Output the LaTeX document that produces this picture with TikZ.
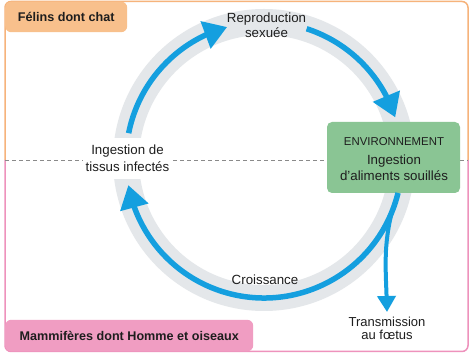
\documentclass[tikz,border=0pt]{standalone}
\usepackage{fontspec}
\setmainfont{Liberation Sans}
\usetikzlibrary{arrows.meta,bending,calc}
\definecolor{orangeF}{HTML}{F8C08C}
\definecolor{orangeL}{HTML}{F6B37B}
\definecolor{pinkF}{HTML}{F09DC2}
\definecolor{pinkL}{HTML}{EE92BC}
\definecolor{greenB}{HTML}{8AC594}
\definecolor{ringG}{HTML}{E4E7EA}
\definecolor{blueA}{HTML}{149FDF}
\definecolor{txt}{HTML}{1E1E1E}
\definecolor{dashG}{HTML}{8A8A8A}
\begin{document}
\begin{tikzpicture}[x=1pt,y=1pt,
  lbl/.style={font=\fontsize{13.3}{15}\selectfont, text=txt, align=center, inner sep=1pt},
  tag/.style={font=\fontsize{12.6}{15}\selectfont\bfseries, text=txt},
  flow/.style={draw=blueA, line width=5.5pt, -{Triangle[length=23pt,width=28pt]}},
  flowsmall/.style={draw=blueA, line width=4pt, -{Triangle[length=16pt,width=18pt]}},
]
\useasboundingbox (0,0) rectangle (474,353);
\fill[white] (0,0) rectangle (474,353);
\coordinate (C) at (264,193);
% ring
\draw[ringG, line width=26pt] (C) circle[radius=138];
% frames
\draw[orangeL, line width=1.5pt, rounded corners=6] (5,193) -- (5,351.5) -- (468,351.5) -- (468,193);
\draw[pinkL, line width=1.5pt, rounded corners=6] (5,193) -- (5,1.5) -- (468,1.5) -- (468,193);
\draw[dashG, line width=0.8pt, dash pattern=on 4pt off 3pt] (5,193) -- (468,193);
% labels of the frames
\node[tag, fill=orangeF, rounded corners=6, minimum width=122, minimum height=30.5, anchor=north west] (felins) at (5,351.5) {Félins dont chat};
\node[tag, fill=pinkF, rounded corners=6, minimum width=248, minimum height=31.5, anchor=south west] (mamm) at (5,1.5) {Mammifères dont Homme et oiseaux};
% environment box
\node[fill=greenB, rounded corners=5, minimum width=133, minimum height=71] (env) at (393.5,195.5) {};
\node[font=\fontsize{11.4}{13}\selectfont, text=txt] (envt) at (394,211) {ENVIRONNEMENT};
\node[lbl, font=\fontsize{13.3}{16}\selectfont] (envs) at (394,185) {Ingestion\\d’aliments souillés};
% text labels
\node[lbl, fill=white, inner xsep=3pt, inner ysep=7pt, font=\fontsize{13.3}{17}\selectfont] (ingt) at (127.5,194.5) {Ingestion de\\tissus infectés};
\node[lbl] (repro) at (266.5,327.5) {Reproduction\\sexuée};
\node[lbl] (crois) at (265,73) {Croissance};
\node[lbl, font=\fontsize{13}{13.5}\selectfont] (trans) at (387,24.5) {Transmission\\au fœtus};
% arrows
\coordinate (a1s) at ($(C)+(168.8:138)$);
\coordinate (a2s) at ($(C)+(72:138)$);
\coordinate (a3s) at ($(C)+(-13.8:138)$);
\coordinate (br) at ($(C)+(-22:138)$);
\coordinate (tipT) at (387,41);
\draw[flow] (a1s) arc[start angle=168.8, end angle=105.5, radius=138];
\draw[flow] (a2s) arc[start angle=72, end angle=18, radius=138];
\draw[flow] (a3s) arc[start angle=-13.8, end angle=-169.5, radius=138];
\draw[flowsmall] (br) to[out=-104, in=91] (tipT);
\end{tikzpicture}
\end{document}
